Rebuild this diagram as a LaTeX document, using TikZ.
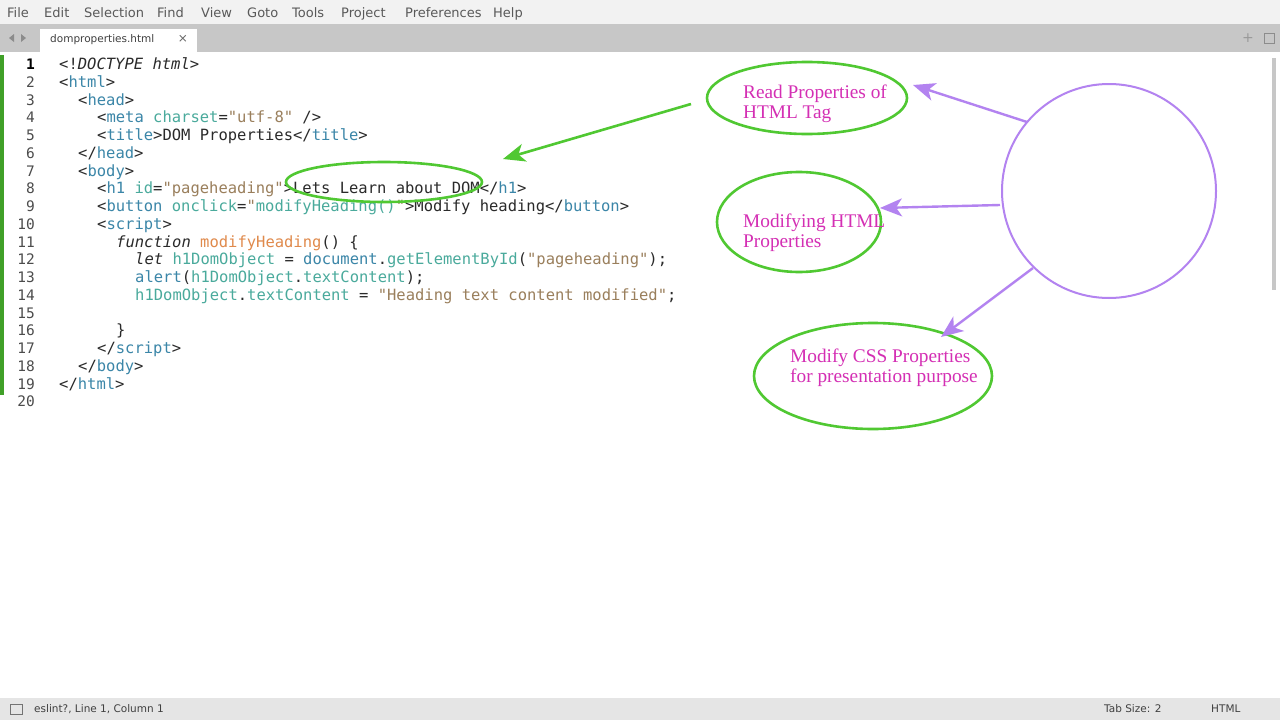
\documentclass[tikz,border=0pt]{standalone}
\usetikzlibrary{shapes.geometric,arrows.meta}
\usepackage{fontspec}
\setmainfont{Liberation Serif}
\setsansfont{DejaVu Sans}
\setmonofont{DejaVu Sans Mono}
\begin{document}
\definecolor{tg}{HTML}{3B86A8}
\definecolor{at}{HTML}{4AAA9C}
\definecolor{st}{HTML}{9A7F5C}
\definecolor{fn}{HTML}{E08A4C}
\definecolor{tx}{HTML}{2A2A2A}
\definecolor{gr}{HTML}{50C832}
\definecolor{pu}{HTML}{B383F0}
\definecolor{mg}{HTML}{D42FB4}
\begin{tikzpicture}[x=1pt,y=-1pt,
  code/.style={anchor=base west,inner sep=0,font=\ttfamily\fontsize{15.5}{16}\selectfont,text=tx},
  num/.style={anchor=base east,inner sep=0,font=\ttfamily\fontsize{14.5}{16}\selectfont,text=black!70},
  menu/.style={anchor=base west,inner sep=0,font=\sffamily\fontsize{13}{15}\selectfont,text=black!65},
  gell/.style={draw=gr,line width=2.6pt,ellipse},
  lab/.style={align=left,text=mg,font=\fontsize{19.3}{20.5}\selectfont,inner sep=0,anchor=west},
  garr/.style={draw=gr,line width=2.6pt,-{Stealth[length=22pt,width=18pt,inset=6pt]}},
  parr/.style={draw=pu,line width=2.4pt,-{Stealth[length=22pt,width=18pt,inset=6pt]}}]
\useasboundingbox (0,0) rectangle (1280,720);
\fill[white] (0,0) rectangle (1280,720);
% menu bar
\fill[black!5] (0,0) rectangle (1280,24);
\foreach \t/\x in {File/7,Edit/44,Selection/84,Find/157,View/201,Goto/247,Tools/292,Project/341,Preferences/405,Help/493}
  \node[menu] (m\t) at (\x,17) {\t};
% tab bar
\fill[black!22] (0,24) rectangle (1280,52);
\fill[white] (40,29) rectangle (197,52);
\node[anchor=base west,inner sep=0,font=\sffamily\fontsize{10.5}{12}\selectfont,text=black!75] (tab) at (50,42) {domproperties.html};
\node[inner sep=0,font=\sffamily\fontsize{12}{12}\selectfont,text=black!60] (tabx) at (183,39) {×};
\fill[black!45] (9,38)--(14,34)--(14,42)--cycle (26,38)--(21,34)--(21,42)--cycle;
\node[inner sep=0,font=\sffamily\fontsize{14}{14}\selectfont,text=black!40] (plus) at (1248,38) {+};
\draw[black!45] (1264,33) rectangle (1274,43);
% left green gutter line and scrollbar
\fill[gr!80!black] (0,55) rectangle (4,395);
\fill[black!22] (1272,58) rectangle (1276,290);
% status bar
\fill[black!10] (0,698) rectangle (1280,720);
\draw[black!55] (10,704) rectangle (22,714);
\node[anchor=base west,inner sep=0,font=\sffamily\fontsize{10.5}{12}\selectfont,text=black!75] (st1) at (34,712) {eslint?, Line 1, Column 1};
\node[anchor=base west,inner sep=0,font=\sffamily\fontsize{10.5}{12}\selectfont,text=black!75] (st2) at (1104,712) {Tab Size: 2};
\node[anchor=base west,inner sep=0,font=\sffamily\fontsize{10.5}{12}\selectfont,text=black!75] (st3) at (1211,712) {HTML};
% line numbers
\foreach \n in {2,...,20} \node[num] (n\n) at (35,{69.5+(\n-1)*17.75}) {\n};
\node[num,text=black,font=\ttfamily\bfseries\fontsize{14.5}{16}\selectfont] (n1) at (35,69.5) {1};
% code
\def\Y#1{{69.5+(#1-1)*17.75}}
\node[code] (c1) at (59,\Y1) {<!\textit{DOCTYPE html}>};
\node[code] (c2) at (59,\Y2) {<\textcolor{tg}{html}>};
\node[code] (c3) at (78,\Y3) {<\textcolor{tg}{head}>};
\node[code] (c4) at (97,\Y4) {<\textcolor{tg}{meta} \textcolor{at}{charset}=\textcolor{st}{"utf-8"} />};
\node[code] (c5) at (97,\Y5) {<\textcolor{tg}{title}>DOM Properties</\textcolor{tg}{title}>};
\node[code] (c6) at (78,\Y6) {</\textcolor{tg}{head}>};
\node[code] (c7) at (78,\Y7) {<\textcolor{tg}{body}>};
\node[code] (c8) at (97,\Y8) {<\textcolor{tg}{h1} \textcolor{at}{id}=\textcolor{st}{"pageheading"}>Lets Learn about DOM</\textcolor{tg}{h1}>};
\node[code] (c9) at (97,\Y9) {<\textcolor{tg}{button} \textcolor{at}{onclick}=\textcolor{st}{"}\textcolor{at}{modifyHeading()}\textcolor{st}{"}>Modify heading</\textcolor{tg}{button}>};
\node[code] (c10) at (97,\Y{10}) {<\textcolor{tg}{script}>};
\node[code] (c11) at (116,\Y{11}) {\textit{function} \textcolor{fn}{modifyHeading}() \{};
\node[code] (c12) at (135,\Y{12}) {\textit{let} \textcolor{at}{h1DomObject} = \textcolor{tg}{document}.\textcolor{at}{getElementById}(\textcolor{st}{"pageheading"});};
\node[code] (c13) at (135,\Y{13}) {\textcolor{tg}{alert}(\textcolor{at}{h1DomObject}.\textcolor{at}{textContent});};
\node[code] (c14) at (135,\Y{14}) {\textcolor{at}{h1DomObject}.\textcolor{at}{textContent} = \textcolor{st}{"Heading text content modified"};};
\node[code] (c16) at (116,\Y{16}) {\}};
\node[code] (c17) at (97,\Y{17}) {</\textcolor{tg}{script}>};
\node[code] (c18) at (78,\Y{18}) {</\textcolor{tg}{body}>};
\node[code] (c19) at (59,\Y{19}) {</\textcolor{tg}{html}>};
% annotations
\node[gell,minimum width=196pt,minimum height=40pt] (e0) at (384,182) {};
\node[gell,minimum width=200pt,minimum height=72pt] (e1) at (807,98) {};
\node[lab] (t1) at (743,104) {Read Properties of\\HTML Tag};
\node[gell,minimum width=164pt,minimum height=100pt] (e2) at (799,222) {};
\node[lab] (t2) at (743,233) {Modifying HTML\\Properties};
\node[gell,minimum width=238pt,minimum height=106pt] (e3) at (873,376) {};
\node[lab] (t3) at (790,368) {Modify CSS Properties\\for presentation purpose};
\node[draw=pu,line width=2pt,circle,minimum size=214pt,inner sep=0] (pc) at (1109,191) {};
\coordinate (g0) at (691,104);
\coordinate (ga) at (503,159);
\draw[garr] (g0) -- (ga);
\coordinate (p1) at (1027,122);\coordinate (p1e) at (913,85);
\coordinate (p2) at (1000,205);\coordinate (p2e) at (880,208);
\coordinate (p3) at (1033,268);\coordinate (p3e) at (941,337);
\draw[parr] (p1) -- (p1e);
\draw[parr] (p2) -- (p2e);
\draw[parr] (p3) -- (p3e);
\end{tikzpicture}
\end{document}
